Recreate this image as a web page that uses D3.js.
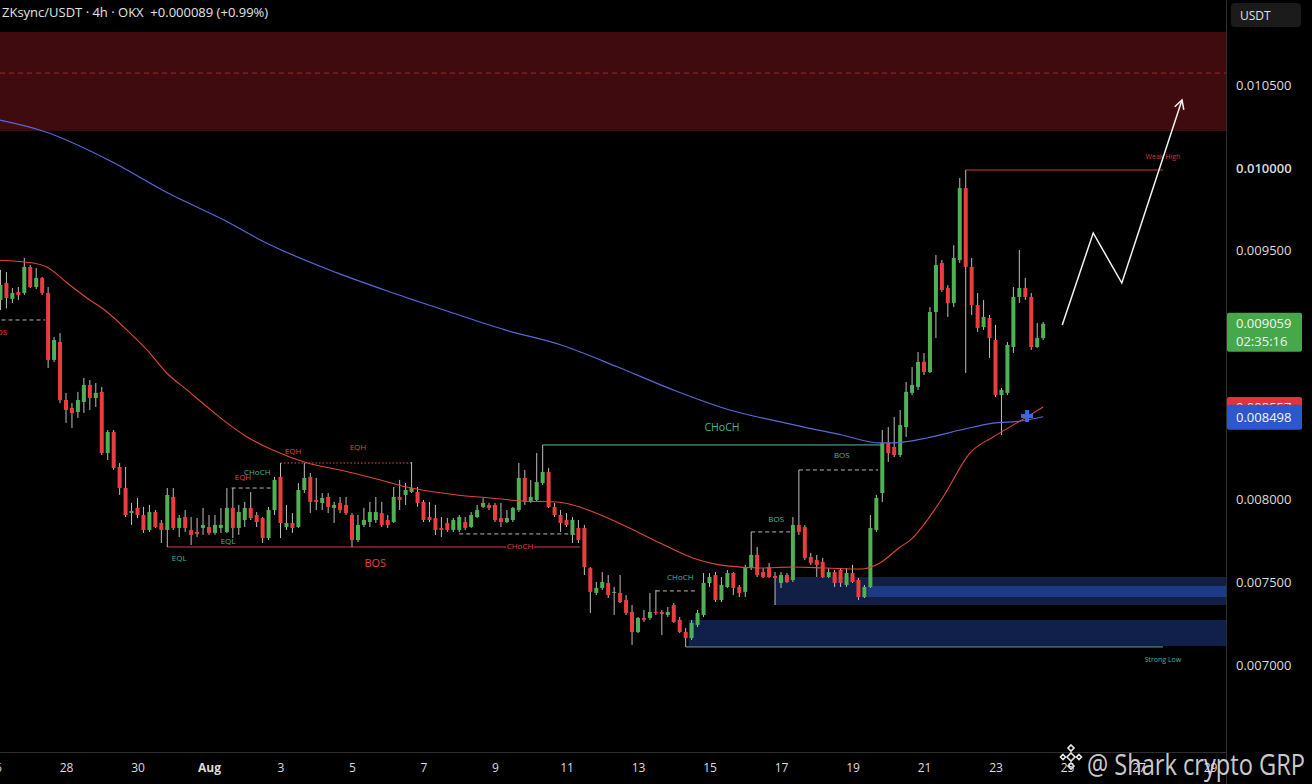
<!DOCTYPE html>
<html>
<head>
<meta charset="utf-8">
<script src="https://cdn.jsdelivr.net/npm/d3@7"></script>
<style>
html, body { margin: 0; padding: 0; background: #000; overflow: hidden; }
svg { display: block; }
text { font-family: "Open Sans", "Noto Sans", sans-serif; }
</style>
</head>
<body>
<script>
const width = 1312
const height = 784
const plotRight = 1226
const plotBottom = 752

// 4h candles, the first one opens Jul 26 04:00
const firstCandle = Date.UTC(2025, 6, 26, 4)
const FOUR_H = 4 * 3600 * 1000

const opens = [0.009203,0.009305,0.009209,0.009251,0.009245,0.009402,0.009281,0.009336,0.009245,0.008841,
0.008949,0.008599,0.008551,0.008527,0.008587,0.008690,0.008611,0.008648,0.008279,0.008406,
0.008195,0.008068,0.007917,0.007948,0.007905,0.007815,0.007923,0.007857,0.007815,0.008014,
0.007827,0.007893,0.007815,0.007803,0.007827,0.007833,0.007797,0.007827,0.007803,0.007948,
0.007827,0.007875,0.007948,0.007905,0.007887,0.007766,0.007935,0.008135,0.007833,0.007857,
0.007833,0.008056,0.008135,0.007996,0.007978,0.008014,0.007948,0.007978,0.007966,0.007905,
0.007754,0.007845,0.007863,0.007875,0.007917,0.007875,0.007863,0.008014,0.008026,0.008044,
0.008044,0.007984,0.007893,0.007887,0.007827,0.007857,0.007815,0.007815,0.007863,0.007833,
0.007893,0.007954,0.007966,0.007966,0.007887,0.007863,0.007875,0.007935,0.008129,0.007984,
0.007996,0.008098,0.008165,0.007954,0.007905,0.007875,0.007785,0.007827,0.007827,0.007585,
0.007435,0.007465,0.007495,0.007435,0.007435,0.007392,0.007320,0.007199,0.007284,0.007284,
0.007320,0.007320,0.007302,0.007362,0.007272,0.007199,0.007163,0.007242,0.007302,0.007495,
0.007543,0.007392,0.007471,0.007555,0.007471,0.007441,0.007585,0.007664,0.007561,0.007591,
0.007537,0.007495,0.007543,0.007513,0.007845,0.007833,0.007652,0.007634,0.007622,0.007531,
0.007561,0.007573,0.007483,0.007555,0.007513,0.007410,0.007471,0.007815,0.008038,0.008340,
0.008316,0.008267,0.008436,0.008642,0.008678,0.008829,0.008768,0.009130,0.009426,0.009275,
0.009185,0.009444,0.009878,0.009402,0.009172,0.009040,0.009094,0.008961,0.008629,0.008642,
0.008919,0.009221,0.009275,0.009221,0.008919,0.008973]

const highs = [0.009384,0.009372,0.009275,0.009281,0.009456,0.009414,0.009396,0.009342,0.009281,0.008979,
0.009003,0.008642,0.008581,0.008648,0.008732,0.008720,0.008702,0.008678,0.008418,0.008418,
0.008219,0.008195,0.007978,0.008008,0.007954,0.007966,0.007935,0.007875,0.008068,0.008068,
0.007905,0.007935,0.007893,0.007887,0.007948,0.007905,0.007905,0.007948,0.008068,0.008068,
0.007966,0.007984,0.008044,0.007923,0.007893,0.007954,0.008135,0.008219,0.007966,0.007917,
0.008098,0.008219,0.008159,0.008129,0.008038,0.008038,0.007984,0.008014,0.008014,0.007917,
0.007905,0.007948,0.007984,0.008014,0.007984,0.007905,0.008074,0.008117,0.008098,0.008225,
0.008074,0.007996,0.007984,0.007966,0.007893,0.007887,0.007887,0.007905,0.007893,0.007923,
0.007966,0.008008,0.007978,0.007978,0.007978,0.007935,0.007954,0.008219,0.008177,0.008117,
0.008279,0.008328,0.008189,0.007978,0.007935,0.007917,0.007893,0.007875,0.007845,0.007591,
0.007501,0.007561,0.007543,0.007471,0.007543,0.007422,0.007362,0.007290,0.007332,0.007435,
0.007453,0.007332,0.007350,0.007374,0.007290,0.007224,0.007272,0.007332,0.007555,0.007555,
0.007561,0.007531,0.007573,0.007561,0.007483,0.007604,0.007803,0.007712,0.007585,0.007616,
0.007561,0.007561,0.007555,0.007893,0.008177,0.007845,0.007676,0.007664,0.007646,0.007585,
0.007573,0.007585,0.007585,0.007604,0.007525,0.007483,0.007905,0.008026,0.008418,0.008436,
0.008497,0.008539,0.008708,0.008798,0.008889,0.008883,0.009160,0.009474,0.009444,0.009293,
0.009534,0.009939,0.009987,0.009456,0.009245,0.009203,0.009112,0.009052,0.008672,0.008949,
0.009281,0.009504,0.009336,0.009245,0.009064,0.009070]

const lows = [0.009142,0.009152,0.009185,0.009203,0.009233,0.009275,0.009269,0.009233,0.008792,0.008829,
0.008581,0.008461,0.008430,0.008491,0.008521,0.008539,0.008557,0.008267,0.008237,0.008177,
0.008026,0.007893,0.007845,0.007887,0.007797,0.007803,0.007827,0.007736,0.007712,0.007815,
0.007772,0.007803,0.007724,0.007772,0.007785,0.007785,0.007785,0.007797,0.007797,0.007766,
0.007785,0.007833,0.007875,0.007833,0.007736,0.007754,0.007905,0.007766,0.007815,0.007797,
0.007827,0.008038,0.007917,0.007935,0.007935,0.007917,0.007857,0.007917,0.007905,0.007712,
0.007742,0.007833,0.007833,0.007857,0.007833,0.007827,0.007857,0.007935,0.007966,0.008038,
0.007954,0.007863,0.007863,0.007785,0.007772,0.007803,0.007803,0.007803,0.007815,0.007827,
0.007887,0.007948,0.007935,0.007863,0.007833,0.007857,0.007863,0.007923,0.007966,0.007978,
0.007984,0.008086,0.007948,0.007893,0.007803,0.007833,0.007736,0.007736,0.007543,0.007314,
0.007422,0.007453,0.007404,0.007302,0.007374,0.007302,0.007121,0.007193,0.007260,0.007272,
0.007302,0.007181,0.007290,0.007254,0.007193,0.007109,0.007151,0.007229,0.007290,0.007471,
0.007380,0.007380,0.007465,0.007422,0.007410,0.007410,0.007573,0.007531,0.007525,0.007525,
0.007362,0.007465,0.007495,0.007501,0.007785,0.007634,0.007604,0.007531,0.007525,0.007525,
0.007471,0.007471,0.007471,0.007495,0.007392,0.007404,0.007465,0.007803,0.007984,0.008225,
0.008255,0.008255,0.008376,0.008629,0.008660,0.008750,0.008762,0.008973,0.009251,0.009100,
0.009160,0.009426,0.008762,0.009112,0.009010,0.009022,0.008853,0.008617,0.008388,0.008629,
0.008883,0.009185,0.009203,0.008901,0.008913,0.008961]

const closes = [0.009293,0.009215,0.009245,0.009233,0.009402,0.009281,0.009336,0.009245,0.008841,0.008961,
0.008599,0.008539,0.008521,0.008599,0.008690,0.008611,0.008642,0.008279,0.008406,0.008189,
0.008068,0.007905,0.007929,0.007905,0.007815,0.007923,0.007833,0.007815,0.008026,0.007827,
0.007887,0.007827,0.007785,0.007791,0.007845,0.007797,0.007845,0.007845,0.007948,0.007827,
0.007923,0.007948,0.007887,0.007863,0.007766,0.007935,0.008117,0.007857,0.007857,0.007827,
0.008056,0.008129,0.007984,0.007984,0.008008,0.007954,0.007966,0.007935,0.007917,0.007754,
0.007845,0.007875,0.007923,0.007923,0.007845,0.007845,0.008014,0.007996,0.008056,0.008068,
0.007978,0.007875,0.007875,0.007815,0.007815,0.007815,0.007875,0.007893,0.007827,0.007905,
0.007935,0.007978,0.007948,0.007875,0.007863,0.007887,0.007948,0.008129,0.007984,0.008014,
0.008104,0.008165,0.007954,0.007905,0.007857,0.007845,0.007875,0.007754,0.007591,0.007441,
0.007465,0.007501,0.007422,0.007441,0.007380,0.007314,0.007199,0.007284,0.007272,0.007320,
0.007314,0.007308,0.007320,0.007260,0.007199,0.007163,0.007254,0.007314,0.007495,0.007531,
0.007392,0.007483,0.007555,0.007465,0.007435,0.007585,0.007664,0.007543,0.007531,0.007531,
0.007525,0.007543,0.007501,0.007845,0.007803,0.007646,0.007616,0.007604,0.007531,0.007561,
0.007495,0.007495,0.007555,0.007501,0.007410,0.007471,0.007827,0.008008,0.008340,0.008279,
0.008267,0.008448,0.008648,0.008690,0.008829,0.008768,0.009130,0.009414,0.009263,0.009185,
0.009456,0.009878,0.009402,0.009172,0.009034,0.009100,0.008973,0.008629,0.008660,0.008931,
0.009221,0.009275,0.009221,0.008919,0.008973,0.009059]

// moving averages at a few candle positions
const ema50Idx = [-1,5.5,7.8,11.2,14.5,17.9,21.2,24.6,27.9,31.3,34.7,38,41.4,45.7,51.5,57,62.5,68.2,76.6,82.2,87.7,93.4,96.1,99.5,105.2,110.7,116.2,121.9,127.5,133,138.7,144.3,147.6,151,152.7,158.2,162.7,166.6,170.6,175]
const ema50 = [0.009444,0.009426,0.009402,0.009305,0.009215,0.009130,0.009022,0.008901,0.008762,0.008660,0.008557,0.008461,0.008376,0.008297,0.008219,0.008177,0.008129,0.008074,0.008026,0.008008,0.007990,0.007984,0.007966,0.007923,0.007833,0.007736,0.007646,0.007598,0.007585,0.007591,0.007585,0.007579,0.007616,0.007712,0.007754,0.008014,0.008279,0.008376,0.008461,0.008557]
const ema200Idx = [-1,7.5,18.7,28.1,37.5,44.2,56.5,65.9,75.3,84.7,94.1,103.5,112.9,122.4,131.8,141.2,147.6,149.8,155.5,161.1,166.6,171.1,175]
const ema200 = [0.010295,0.010218,0.010037,0.009848,0.009685,0.009554,0.009366,0.009245,0.009132,0.009022,0.008931,0.008800,0.008660,0.008539,0.008460,0.008388,0.008340,0.008340,0.008370,0.008418,0.008460,0.008472,0.008498]

// zones [low, high] and where they start (candle index)
const supplyZone = [0.010222, 0.010820]
const supplyMid = 0.010572
const demandUpper = [0.007362, 0.007531]
const demandUpperStart = 130
const demandInner = [0.007410, 0.007477]
const demandInnerStart = 145.5
const demandLower = [0.007115, 0.007272]
const demandLowerStart = 115.5

const structureLines = [
  { from: -1, to: 7.5, price: 0.009082, kind: "dash" },
  { from: 28, to: 97.3, price: 0.007712, kind: "bear" },
  { from: 38.8, to: 46, price: 0.008068, kind: "dash" },
  { from: 47, to: 69, price: 0.008219, kind: "dot" },
  { from: 77, to: 96.9, price: 0.007791, kind: "dash" },
  { from: 91, to: 148, price: 0.008328, kind: "bull" },
  { from: 110, to: 117, price: 0.007447, kind: "dash" },
  { from: 126, to: 133.4, price: 0.007803, kind: "dash" },
  { from: 134, to: 147.3, price: 0.008177, kind: "dash" },
  { from: 162, to: 195.1, price: 0.009987, kind: "bear" },
  { from: 115, to: 195.1, price: 0.007109, kind: "bullSoft" }
]

const structureLabels = [
  { text: "BOS", idx: -0.2, price: 0.009003, kind: "bearSmall" },
  { text: "EQL", idx: 30, price: 0.007640, kind: "bullSmall" },
  { text: "EQL", idx: 38.2, price: 0.007742, kind: "bullSmall" },
  { text: "EQH", idx: 40.7, price: 0.008129, kind: "bearSmall" },
  { text: "CHoCH", idx: 43.1, price: 0.008159, kind: "bullSmall" },
  { text: "EQH", idx: 49.1, price: 0.008285, kind: "bearSmall" },
  { text: "EQH", idx: 60, price: 0.008310, kind: "bearSmall" },
  { text: "BOS", idx: 62.9, price: 0.007610, kind: "bear" },
  { text: "CHoCH", idx: 87.2, price: 0.007712, kind: "bearSmall", onLine: true },
  { text: "CHoCH", idx: 114.1, price: 0.007525, kind: "bullSmall" },
  { text: "BOS", idx: 130.2, price: 0.007875, kind: "bullSmall" },
  { text: "CHoCH", idx: 121.1, price: 0.008430, kind: "bull" },
  { text: "BOS", idx: 141.2, price: 0.008261, kind: "bullSmall" },
  { text: "Weak High", idx: 195.1, price: 0.010066, kind: "bearTiny" },
  { text: "Strong Low", idx: 195.1, price: 0.007030, kind: "bullTiny" }
]

// projected path drawn by hand
const arrowIdx = [178.2, 183.4, 188.2, 198.3]
const arrowPrice = [0.009052, 0.009607, 0.009305, 0.010410]
const crossIdx = 172.3
const crossPrice = 0.008503

// 0.008500 and 0.009000 sit under the value labels, so they are not shown
const priceTicks = [0.0070, 0.0075, 0.0080, 0.0095, 0.0100, 0.0105]
const dayTickLabels = ["26","28","30","Aug","3","5","7","9","11","13","15","17","19","21","23","25","27","29"]
const countdown = "02:35:16"

const svg = d3.select("body").append("svg")
    .attr("width", width)
    .attr("height", height)

svg.append("rect").attr("width", width).attr("height", height).attr("fill", "#000")

const x = d3.scaleUtc()
    .domain([Date.UTC(2025, 6, 26), Date.UTC(2025, 7, 29)])
    .range([-5.5, 1210])
const y = d3.scaleLinear()
    .domain([0.0070, 0.0105])
    .range([665, 85])
const xi = i => x(new Date(firstCandle + i * FOUR_H))

svg.append("clipPath").attr("id", "plot")
  .append("rect").attr("width", plotRight).attr("height", plotBottom)
const plot = svg.append("g").attr("clip-path", "url(#plot)")

// zones
function zone(lo, hi, start, fill) {
    plot.append("rect")
        .attr("x", xi(start)).attr("width", plotRight - xi(start))
        .attr("y", y(hi)).attr("height", y(lo) - y(hi))
        .attr("fill", fill)
}
zone(supplyZone[0], supplyZone[1], -3, "#400b0f")
plot.append("line")
    .attr("x1", 0).attr("x2", plotRight)
    .attr("y1", y(supplyMid)).attr("y2", y(supplyMid))
    .attr("stroke", "#9c2b2b").attr("stroke-dasharray", "5,4")
zone(demandUpper[0], demandUpper[1], demandUpperStart, "#111f45")
zone(demandInner[0], demandInner[1], demandInnerStart, "#1c3a86")
zone(demandLower[0], demandLower[1], demandLowerStart, "#10204a")

// structure lines
const lineStyle = {
    dash: { stroke: "#b8b8b8", dash: "4,3" },
    dot: { stroke: "#d9534f", dash: "1.5,2" },
    bear: { stroke: "#d8393a", dash: null },
    bull: { stroke: "#5fb9a6", dash: null },
    bullSoft: { stroke: "#6aa9ad", dash: null }
}
plot.selectAll("line.struct")
  .data(structureLines)
  .join("line")
    .attr("class", "struct")
    .attr("x1", d => xi(d.from)).attr("x2", d => xi(d.to))
    .attr("y1", d => y(d.price)).attr("y2", d => y(d.price))
    .attr("stroke", d => lineStyle[d.kind].stroke)
    .attr("stroke-width", 1)
    .attr("stroke-dasharray", d => lineStyle[d.kind].dash)

// candles
const candles = opens.map((o, i) => ({ i, o, h: highs[i], l: lows[i], c: closes[i] }))
const up = "#4fb153", down = "#eb3d3d"
plot.selectAll("line.wick")
  .data(candles)
  .join("line")
    .attr("class", "wick")
    .attr("x1", d => xi(d.i)).attr("x2", d => xi(d.i))
    .attr("y1", d => y(d.h)).attr("y2", d => y(d.l))
    .attr("stroke", "#bdbdbd").attr("stroke-width", 1)
plot.selectAll("rect.body")
  .data(candles)
  .join("rect")
    .attr("class", "body")
    .attr("x", d => xi(d.i) - 2)
    .attr("width", 4)
    .attr("y", d => y(Math.max(d.o, d.c)))
    .attr("height", d => Math.max(1, Math.abs(y(d.o) - y(d.c))))
    .attr("fill", d => d.c >= d.o ? up : down)

// moving averages
const maLine = d3.line().x(d => xi(d[0])).y(d => y(d[1])).curve(d3.curveMonotoneX)
plot.append("path")
    .attr("d", maLine(d3.zip(ema200Idx, ema200)))
    .attr("fill", "none").attr("stroke", "#5a67d8").attr("stroke-width", 1.2)
plot.append("path")
    .attr("d", maLine(d3.zip(ema50Idx, ema50)))
    .attr("fill", "none").attr("stroke", "#e0473b").attr("stroke-width", 1.1)

// labels
const labelStyle = {
    bear: { fill: "#e8413f", size: 11 },
    bull: { fill: "#4fb39c", size: 10.5 },
    bearSmall: { fill: "#e8413f", size: 8 },
    bullSmall: { fill: "#4fb39c", size: 8 },
    bearTiny: { fill: "#d8393a", size: 7 },
    bullTiny: { fill: "#4fb39c", size: 7 }
}
const lbl = plot.selectAll("g.lbl")
  .data(structureLabels)
  .join("g")
    .attr("class", "lbl")
    .attr("transform", d => `translate(${xi(d.idx)},${y(d.price)})`)
lbl.filter(d => d.onLine).append("rect")
    .attr("x", -14).attr("y", -5).attr("width", 28).attr("height", 10).attr("fill", "#000")
lbl.append("text")
    .attr("text-anchor", "middle")
    .attr("dominant-baseline", "middle")
    .attr("font-size", d => labelStyle[d.kind].size)
    .attr("fill", d => labelStyle[d.kind].fill)
    .text(d => d.text)

// projection arrow
const arrowPts = d3.zip(arrowIdx, arrowPrice).map(d => [xi(d[0]), y(d[1])])
plot.append("path")
    .attr("d", d3.line()(arrowPts))
    .attr("fill", "none").attr("stroke", "#f2f2f2").attr("stroke-width", 1.5)
const tip = arrowPts[arrowPts.length - 1], prev = arrowPts[arrowPts.length - 2]
const ang = Math.atan2(tip[1] - prev[1], tip[0] - prev[0])
plot.append("path")
    .attr("d", d3.line()([
        [tip[0] - 10 * Math.cos(ang - 0.5), tip[1] - 10 * Math.sin(ang - 0.5)],
        tip,
        [tip[0] - 10 * Math.cos(ang + 0.5), tip[1] - 10 * Math.sin(ang + 0.5)]
    ]))
    .attr("fill", "none").attr("stroke", "#f2f2f2").attr("stroke-width", 1.5)

// cross marker
plot.append("path")
    .attr("transform", `translate(${xi(crossIdx)},${y(crossPrice)})`)
    .attr("d", "M-6,0H6M0,-6V6")
    .attr("stroke", "#3a66e8").attr("stroke-width", 4)

// axis frames
svg.append("line").attr("x1", plotRight + 0.5).attr("x2", plotRight + 0.5)
    .attr("y1", 0).attr("y2", height).attr("stroke", "#2e2e2e")
svg.append("line").attr("x1", 0).attr("x2", plotRight)
    .attr("y1", plotBottom + 0.5).attr("y2", plotBottom + 0.5).attr("stroke", "#2e2e2e")

const fmt6 = d3.format(".6f")
const yAxis = svg.append("g")
    .attr("transform", `translate(${plotRight},0)`)
    .call(d3.axisRight(y).tickValues(priceTicks).tickFormat(fmt6).tickSize(0).tickPadding(10))
yAxis.select(".domain").remove()
yAxis.selectAll("text")
    .attr("fill", "#dcdcdc").attr("font-size", 13)
    .attr("font-family", "Open Sans, sans-serif")
    .attr("font-weight", d => d === 0.0100 ? 600 : 400)

const tickDates = dayTickLabels.map((_, k) => new Date(Date.UTC(2025, 6, 26 + 2 * k)))
const xAxis = svg.append("g")
    .attr("transform", `translate(0,${plotBottom})`)
    .call(d3.axisBottom(x).tickValues(tickDates).tickFormat((d, k) => dayTickLabels[k]).tickSize(0).tickPadding(11))
xAxis.select(".domain").remove()
xAxis.selectAll("text")
    .attr("fill", "#dcdcdc").attr("font-size", 12)
    .attr("font-family", "Open Sans, sans-serif")
    .attr("font-weight", (d, k) => dayTickLabels[k] === "Aug" ? 700 : 400)

// currency box
svg.append("rect").attr("x", 1231).attr("y", 3).attr("width", 70).attr("height", 24)
    .attr("rx", 4).attr("fill", "#1b1b1b")
svg.append("text").attr("x", 1240).attr("y", 20).attr("font-size", 12)
    .attr("fill", "#e0e0e0").text("USDT")

// last-value labels
const lastClose = closes[closes.length - 1]
const ema50Last = ema50[ema50.length - 1]
const ema200Last = ema200[ema200.length - 1]
svg.append("rect").attr("x", plotRight + 1).attr("y", y(lastClose) - 11)
    .attr("width", 75).attr("height", 39).attr("rx", 2).attr("fill", "#46a84a")
svg.append("text").attr("x", 1236).attr("y", y(lastClose) + 4)
    .attr("font-size", 13).attr("fill", "#f4f4f4").text(fmt6(lastClose))
svg.append("text").attr("x", 1236).attr("y", y(lastClose) + 22)
    .attr("font-size", 13).attr("fill", "#f4f4f4").text(countdown)

svg.append("rect").attr("x", plotRight + 1).attr("y", y(ema50Last) - 10)
    .attr("width", 75).attr("height", 20).attr("rx", 2).attr("fill", "#e2333c")
svg.append("text").attr("x", 1236).attr("y", y(ema50Last) + 5)
    .attr("font-size", 13).attr("fill", "#fff").text(fmt6(ema50Last))
svg.append("rect").attr("x", plotRight + 1).attr("y", y(ema200Last) - 12)
    .attr("width", 75).attr("height", 25).attr("rx", 2).attr("fill", "#2c57cf")
svg.append("text").attr("x", 1236).attr("y", y(ema200Last) + 5)
    .attr("font-size", 13).attr("fill", "#f4f4f4").text(fmt6(ema200Last))

// header
svg.append("text").attr("x", 2).attr("y", 17).attr("font-size", 13)
    .attr("fill", "#e3e3e3").attr("xml:space", "preserve")
    .text("ZKsync/USDT · 4h · OKX  +0.000089 (+0.99%)")

// watermark
const logo = svg.append("g").attr("transform", "translate(1071,757)")
    .attr("fill", "none").attr("stroke", "#e8e8e8").attr("stroke-width", 1.6)
const diamonds = [[0, 0, 4], [0, -9, 3], [0, 9, 3], [-8, 0, 2.5], [8, 0, 2.5]]
diamonds.forEach(([dx, dy, r]) => {
    logo.append("path").attr("d", `M${dx},${dy - r}L${dx + r},${dy}L${dx},${dy + r}L${dx - r},${dy}Z`)
})
svg.append("text").attr("x", 1087).attr("y", 775)
    .attr("font-size", 30).attr("fill", "#e6e6e6").attr("fill-opacity", 0.9)
    .attr("textLength", 218).attr("lengthAdjust", "spacingAndGlyphs")
    .text("@ Shark crypto GRP")
</script>
</body>
</html>
